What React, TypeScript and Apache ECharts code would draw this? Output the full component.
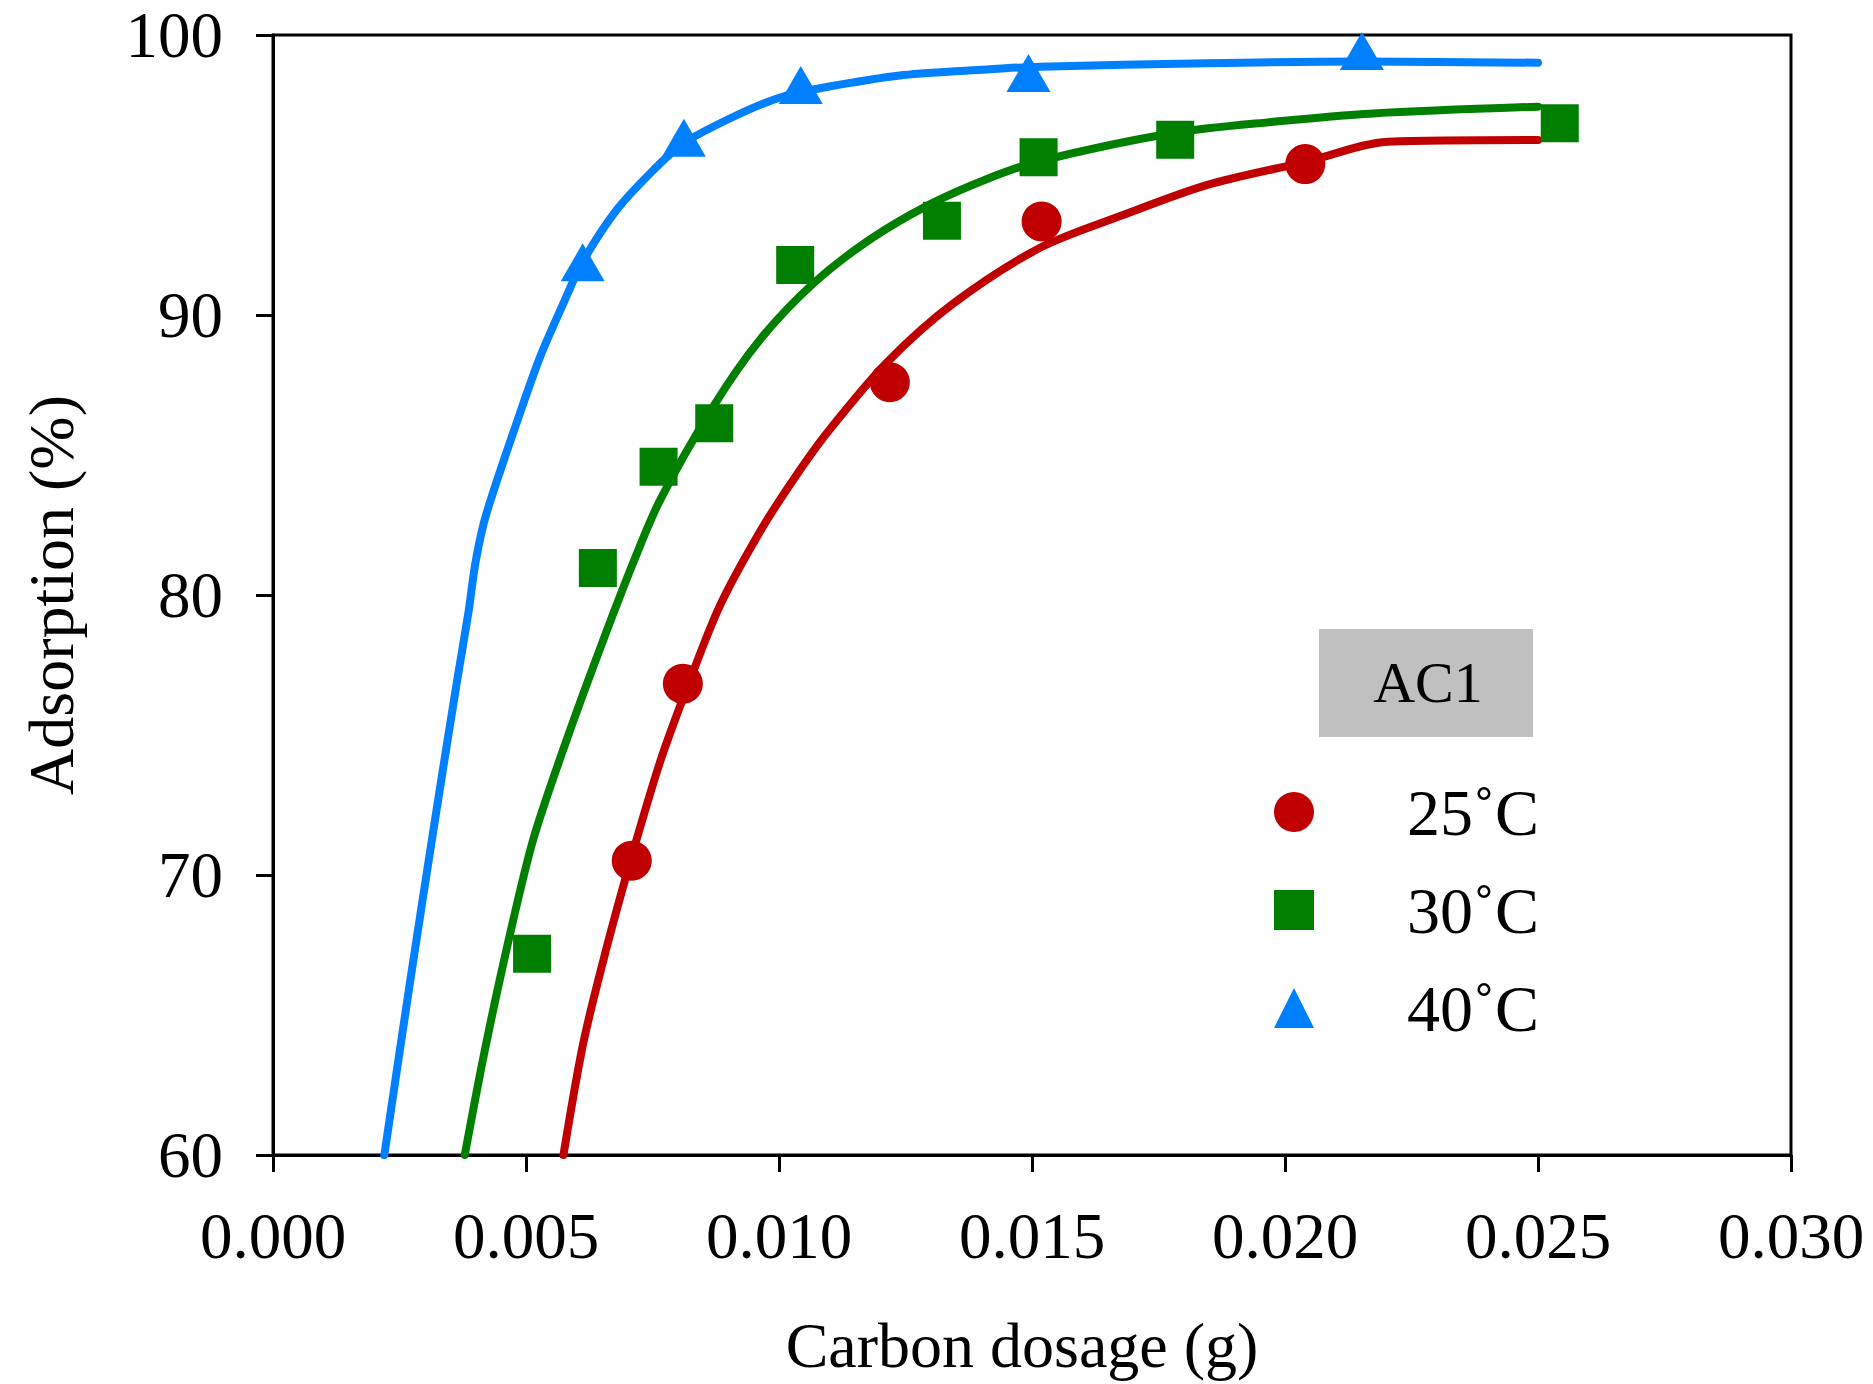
import React, { useEffect, useRef } from "react";
import * as echarts from "echarts";

// ---- Data ----
const seriesNames = ["25˚C", "30˚C", "40˚C"];
const colors = ["#C00000", "#007F00", "#0080FF"];

// Measured points
const dose25 = [0.00709, 0.0081, 0.01219, 0.01519, 0.0204];
const ads25 = [70.51, 76.83, 87.6, 93.34, 95.39];
const dose30 = [0.00512, 0.00642, 0.00762, 0.00872, 0.01032, 0.01322, 0.01513, 0.01783, 0.02543];
const ads30 = [67.19, 80.96, 84.58, 86.13, 91.79, 93.37, 95.63, 96.26, 96.85];
const dose40 = [0.00612, 0.00812, 0.01043, 0.01493, 0.02152];
const ads40 = [91.88, 96.33, 98.21, 98.64, 99.43];

// Fitted curves
const fitX25 = [0.00574, 0.00613, 0.00659, 0.00706, 0.00765, 0.00818, 0.00883, 0.00962, 0.01028, 0.01094, 0.01213, 0.01345, 0.01516, 0.0168, 0.01845, 0.02043, 0.02204, 0.025];
const fitY25 = [60.0, 63.98, 67.38, 70.48, 74.04, 76.67, 79.61, 82.25, 84.11, 85.77, 88.3, 90.42, 92.4, 93.57, 94.64, 95.48, 96.19, 96.25];
const fitX30 = [0.00379, 0.00416, 0.00462, 0.00514, 0.0058, 0.00646, 0.00712, 0.00765, 0.0087, 0.00962, 0.01068, 0.0118, 0.01298, 0.0141, 0.01516, 0.01779, 0.01977, 0.02175, 0.025];
const fitY30 = [60.0, 63.51, 67.38, 71.25, 74.81, 78.07, 81.16, 83.39, 86.73, 89.11, 91.13, 92.7, 93.95, 94.85, 95.5, 96.5, 96.9, 97.2, 97.44];
const fitX40 = [0.0022, 0.00271, 0.00323, 0.00364, 0.00386, 0.00401, 0.00422, 0.00488, 0.00528, 0.00574, 0.00612, 0.00679, 0.00752, 0.00811, 0.0091, 0.01002, 0.01081, 0.01246, 0.0141, 0.01516, 0.01845, 0.02148, 0.025];
const fitY40 = [60.0, 66.2, 72.3, 76.96, 79.35, 81.25, 82.92, 86.49, 88.51, 90.42, 91.9, 93.75, 95.18, 96.13, 97.08, 97.77, 98.1, 98.57, 98.77, 98.87, 98.99, 99.05, 99.01];

const xMin = 0, xMax = 0.03, xStep = 0.005;
const yMin = 60, yMax = 100, yStep = 10;
const boxLabel = "AC1";

const zip = (a: number[], b: number[]) => a.map((v, i) => [v, b[i]]);

const FONT = "'Liberation Serif', 'Times New Roman', serif";

export default function App() {
  const ref = useRef<HTMLDivElement>(null);
  useEffect(() => {
    document.body.style.margin = "0";
    const chart = echarts.init(ref.current!, undefined, { renderer: "svg" });
    const lineSeries = (name: string, xs: number[], ys: number[], color: string) => ({
      type: "line",
      name: name + " fit",
      data: zip(xs, ys),
      showSymbol: false,
      symbol: "none",
      smooth: 0.3,
      itemStyle: { color },
      lineStyle: { color, width: 8, cap: "round", join: "round" },
      emphasis: { disabled: true },
      z: 2,
      silent: true,
    });
    const scatterSeries = (name: string, xs: number[], ys: number[], color: string, symbol: string, size: any) => ({
      type: "scatter",
      name,
      data: zip(xs, ys),
      symbol,
      symbolSize: size,
      itemStyle: { color, opacity: 1 },
      z: 5,
    });
    chart.setOption({
      animation: false,
      backgroundColor: "#fff",
      grid: {
        left: 273, top: 35, width: 1518, height: 1120,
        show: true, borderColor: "#000", borderWidth: 3, backgroundColor: "transparent",
      },
      xAxis: {
        type: "value", min: xMin, max: xMax, interval: xStep,
        axisLine: { show: true, onZero: false, lineStyle: { color: "#000", width: 3 } },
        axisTick: { show: true, length: 17, lineStyle: { color: "#000", width: 3 } },
        splitLine: { show: false },
        axisLabel: {
          color: "#000", fontFamily: FONT, fontSize: 65, margin: 48,
          showMinLabel: true, showMaxLabel: true,
          formatter: (v: number) => v.toFixed(3),
        },
        name: "Carbon dosage (g)", nameLocation: "middle", nameGap: 158,
        nameTextStyle: { color: "#000", fontFamily: FONT, fontSize: 64, padding: [0, 20, 0, 0] },
      },
      yAxis: {
        type: "value", min: yMin, max: yMax, interval: yStep,
        axisLine: { show: true, onZero: false, lineStyle: { color: "#000", width: 3 } },
        axisTick: { show: true, length: 17, lineStyle: { color: "#000", width: 3 } },
        splitLine: { show: false },
        axisLabel: {
          color: "#000", fontFamily: FONT, fontSize: 65, margin: 50,
          showMinLabel: true, showMaxLabel: true,
        },
        name: "Adsorption (%)", nameLocation: "middle", nameGap: 190,
        nameTextStyle: { color: "#000", fontFamily: FONT, fontSize: 64 },
      },
      legend: {
        orient: "vertical", left: 1274, top: 779, padding: 0,
        itemWidth: 40, itemHeight: 40, itemGap: 32,
        selectedMode: false,
        data: seriesNames,
        textStyle: { color: "#000", fontFamily: FONT, fontSize: 66, lineHeight: 64, padding: [0, 0, 0, 88] },
      },
      graphic: [
        {
          type: "rect", left: 1319, top: 629, z: 10,
          shape: { width: 214, height: 108 },
          style: { fill: "#C0C0C0" },
        },
        {
          type: "text", x: 1428, y: 682, z: 11,
          style: {
            text: boxLabel, fill: "#000", font: `58px ${FONT}`,
            textAlign: "center", textVerticalAlign: "middle",
          },
        },
      ],
      series: [
        lineSeries(seriesNames[0], fitX25, fitY25, colors[0]),
        lineSeries(seriesNames[1], fitX30, fitY30, colors[1]),
        lineSeries(seriesNames[2], fitX40, fitY40, colors[2]),
        scatterSeries(seriesNames[0], dose25, ads25, colors[0], "circle", 40),
        scatterSeries(seriesNames[1], dose30, ads30, colors[1], "rect", 38),
        scatterSeries(seriesNames[2], dose40, ads40, colors[2], "triangle", [44, 38]),
      ],
    });
    return () => chart.dispose();
  }, []);
  return <div ref={ref} style={{ width: 1873, height: 1384 }} />;
}
